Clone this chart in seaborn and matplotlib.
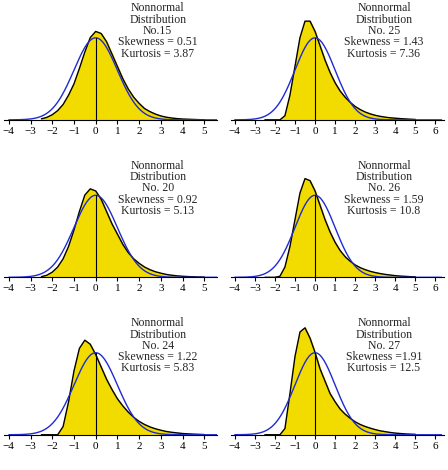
import numpy as np
import matplotlib
matplotlib.use("Agg")
import matplotlib.pyplot as plt
import seaborn as sns

sns.set_theme(style="white")
plt.rcParams['font.family'] = ['Liberation Serif', 'DejaVu Serif']

grid = [-2.5 + 0.25 * i for i in range(31)]
names = ["No.15", "No. 25", "No. 20", "No. 26", "No. 24", "No. 27"]
skew = ["0.51", "1.43", "0.92", "1.59", "1.22", "1.91"]
kurt = ["3.87", "7.36", "5.13", "10.8", "5.83", "12.5"]
skew_sep = [" = ", " = ", " = ", " = ", " = ", " ="]

dens15 = [.005,.012,.025,.045,.075,.12,.175,.25,.33,.40,.43,.42,.38,.32,.26,.20,.15,.11,.08,.055,.04,.028,.019,.013,.009,.006,.004,.003,.002,.001,0]
dens25 = [0,0,0,0,.02,.12,.26,.40,.48,.48,.43,.36,.29,.23,.18,.14,.11,.085,.065,.05,.038,.029,.022,.017,.013,.01,.008,.006,.0045,.003,.002]
dens20 = [.003,.01,.025,.05,.09,.15,.23,.32,.40,.43,.42,.38,.32,.26,.21,.16,.12,.09,.068,.05,.037,.027,.02,.014,.01,.007,.005,.0035,.0025,.0015,.001]
dens26 = [0,0,0,.005,.05,.15,.28,.41,.48,.47,.42,.35,.28,.22,.17,.13,.10,.078,.06,.047,.037,.029,.023,.018,.014,.011,.008,.006,.0045,.003,.002]
dens24 = [0,0,0,0,.04,.16,.31,.42,.46,.44,.39,.33,.27,.22,.175,.14,.11,.085,.065,.05,.038,.029,.022,.016,.012,.009,.006,.0045,.003,.002,.001]
dens27 = [0,0,0,0,.03,.20,.38,.50,.52,.47,.40,.32,.26,.20,.16,.125,.10,.08,.063,.05,.04,.032,.025,.019,.015,.011,.008,.006,.004,.003,.002]
densities = [dens15, dens25, dens20, dens26, dens24, dens27]

xn = np.linspace(-4, 6.3, 400)
normal = np.exp(-xn**2 / 2) / np.sqrt(2 * np.pi)

fig = plt.figure(figsize=(4.48, 4.70), dpi=100)
for i in range(6):
    r, c = divmod(i, 2)
    left = 0.01 if c == 0 else 0.515
    bottom = 0.745 - r * 0.335
    ax = fig.add_axes([left, bottom, 0.475, 0.245])
    d = np.array(densities[i])
    ax.fill_between(grid, 0, d, color="#f2dc00", zorder=1)
    sns.lineplot(x=grid, y=d, ax=ax, color="black", lw=1.0, zorder=3)
    sns.lineplot(x=xn, y=normal, ax=ax, color="#1f2bd0", lw=1.0, zorder=4)
    ax.plot([0, 0], [0, normal.max()], color="black", lw=0.8, zorder=5)
    if c == 0:
        ax.set_xlim(-4.2, 5.6)
        ax.set_xticks(range(-4, 6))
    else:
        ax.set_xlim(-4.2, 6.4)
        ax.set_xticks(range(-4, 7))
    ax.set_ylim(0, 0.56)
    ax.set_yticks([])
    for s in ["top", "left", "right"]:
        ax.spines[s].set_visible(False)
    ax.spines["bottom"].set_color("black")
    ax.spines["bottom"].set_linewidth(0.8)
    ax.tick_params(axis="x", bottom=True, length=3, width=0.8, pad=2, labelsize=8, colors="black")
    ax.text(0.72, 1.02, "Nonnormal\nDistribution\n" + names[i] + "\nSkewness" + skew_sep[i] + skew[i] + "\nKurtosis = " + kurt[i],
            transform=ax.transAxes, ha="center", va="top", fontsize=8.5, linespacing=0.92)

fig.savefig("out.png", dpi=100, facecolor="white")
